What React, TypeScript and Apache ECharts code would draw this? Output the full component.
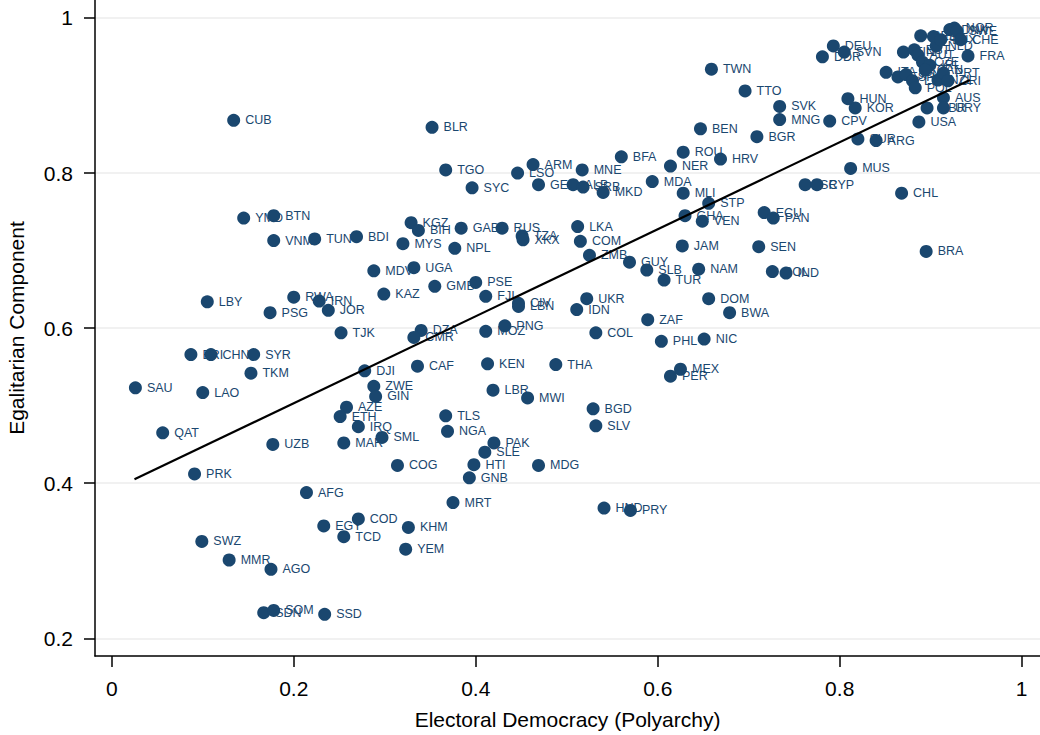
import React, { useEffect, useRef } from "react";
import * as echarts from "echarts";

// country codes, electoral democracy (x) and egalitarian component (y)
const codes = [
  "CUB", "BLR", "YMD", "BTN", "VNM", "TUN", "BDI", "KGZ", "BIH", "MYS",
  "MDV", "UGA", "KAZ", "LBY", "RWA", "IRN", "JOR", "PSG", "TJK", "DZA",
  "CMR", "ERI", "CHN", "SYR", "TKM", "SAU", "LAO", "QAT", "UZB", "PRK",
  "DJI", "CAF", "ZWE", "GIN", "AZE", "ETH", "IRQ", "MAR", "SML", "COG",
  "AFG", "EGY", "COD", "TCD", "KHM", "YEM", "SWZ", "MMR", "AGO", "SDN",
  "SOM", "SSD", "TGO", "SYC", "ARM", "LSO", "GEO", "ALB", "SRB", "MKD",
  "MNE", "BFA", "GAB", "RUS", "TZA", "XKX", "NPL", "LKA", "COM", "ZMB",
  "GUY", "SLB", "GMB", "PSE", "FJI", "CIV", "LBN", "UKR", "IDN", "PNG",
  "MOZ", "COL", "KEN", "THA", "LBR", "MWI", "BGD", "SLV", "TLS", "NGA",
  "PAK", "ZAF", "PHL", "SLE", "HTI", "GNB", "MDG", "MRT", "HND", "PRY",
  "SVK", "MNG", "CPV", "KOR", "HUN", "BEN", "BGR", "ROU", "HRV", "NER",
  "MDA", "MLI", "STP", "GHA", "VEN", "JAM", "SEN", "ECU", "PAN", "NAM",
  "TUR", "BOL", "IND", "ISR", "CYP", "MUS", "SUR", "ARG", "CHL", "BRA",
  "USA", "DOM", "BWA", "NIC", "MEX", "PER", "TWN", "TTO", "DEU", "SVN",
  "DDR", "DNK", "NOR", "SWE", "CHE", "FRA", "NLD", "ISL", "BEL", "LUX",
  "FIN", "EST", "AUT", "CZE", "IRL", "CAN", "ITA", "ESP", "JPN", "LTU",
  "NZL", "PRT", "CRI", "POL", "AUS", "GBR", "URY",
];

const polyarchy = [
  0.134, 0.352, 0.145, 0.178, 0.178, 0.223, 0.269, 0.329, 0.337, 0.320,
  0.288, 0.332, 0.299, 0.105, 0.200, 0.228, 0.238, 0.174, 0.252, 0.340,
  0.332, 0.087, 0.109, 0.156, 0.153, 0.026, 0.100, 0.056, 0.177, 0.091,
  0.278, 0.336, 0.288, 0.290, 0.258, 0.251, 0.271, 0.255, 0.297, 0.314,
  0.214, 0.233, 0.271, 0.255, 0.326, 0.323, 0.099, 0.129, 0.175, 0.167,
  0.178, 0.234, 0.367, 0.396, 0.463, 0.446, 0.469, 0.507, 0.518, 0.540,
  0.517, 0.560, 0.384, 0.429, 0.451, 0.452, 0.377, 0.512, 0.515, 0.525,
  0.569, 0.588, 0.355, 0.400, 0.411, 0.447, 0.447, 0.522, 0.511, 0.432,
  0.411, 0.532, 0.413, 0.488, 0.419, 0.457, 0.529, 0.532, 0.367, 0.369,
  0.420, 0.589, 0.604, 0.410, 0.398, 0.393, 0.469, 0.375, 0.541, 0.570,
  0.734, 0.734, 0.789, 0.817, 0.809, 0.647, 0.709, 0.628, 0.669, 0.614,
  0.594, 0.628, 0.656, 0.630, 0.649, 0.627, 0.711, 0.717, 0.727, 0.645,
  0.607, 0.726, 0.741, 0.762, 0.775, 0.812, 0.820, 0.840, 0.868, 0.895,
  0.887, 0.656, 0.679, 0.651, 0.625, 0.614, 0.659, 0.696, 0.793, 0.805,
  0.781, 0.921, 0.926, 0.929, 0.933, 0.941, 0.906, 0.903, 0.889, 0.911,
  0.870, 0.882, 0.886, 0.891, 0.899, 0.894, 0.851, 0.864, 0.873, 0.880,
  0.908, 0.914, 0.919, 0.883, 0.914, 0.896, 0.914,
];

const egalitarian = [
  0.868, 0.859, 0.742, 0.745, 0.713, 0.715, 0.718, 0.736, 0.726, 0.709,
  0.674, 0.678, 0.644, 0.634, 0.640, 0.635, 0.623, 0.620, 0.594, 0.597,
  0.588, 0.566, 0.566, 0.566, 0.542, 0.523, 0.517, 0.465, 0.450, 0.412,
  0.545, 0.551, 0.525, 0.512, 0.498, 0.486, 0.473, 0.452, 0.459, 0.423,
  0.388, 0.345, 0.354, 0.331, 0.343, 0.315, 0.325, 0.301, 0.289, 0.233,
  0.236, 0.231, 0.804, 0.781, 0.811, 0.800, 0.785, 0.785, 0.782, 0.775,
  0.804, 0.821, 0.729, 0.729, 0.719, 0.714, 0.703, 0.731, 0.712, 0.694,
  0.685, 0.675, 0.654, 0.659, 0.641, 0.632, 0.628, 0.638, 0.624, 0.603,
  0.596, 0.594, 0.554, 0.553, 0.520, 0.510, 0.496, 0.474, 0.487, 0.467,
  0.452, 0.611, 0.583, 0.440, 0.424, 0.407, 0.423, 0.375, 0.368, 0.365,
  0.886, 0.869, 0.867, 0.884, 0.896, 0.857, 0.847, 0.827, 0.818, 0.809,
  0.789, 0.774, 0.761, 0.745, 0.738, 0.706, 0.705, 0.749, 0.742, 0.676,
  0.662, 0.673, 0.671, 0.785, 0.785, 0.806, 0.844, 0.842, 0.774, 0.699,
  0.866, 0.638, 0.620, 0.586, 0.547, 0.538, 0.934, 0.906, 0.964, 0.956,
  0.950, 0.985, 0.987, 0.983, 0.972, 0.951, 0.964, 0.976, 0.977, 0.972,
  0.956, 0.959, 0.952, 0.943, 0.939, 0.933, 0.930, 0.924, 0.927, 0.919,
  0.920, 0.929, 0.919, 0.910, 0.897, 0.884, 0.884,
];

const xTicks = [0, 0.2, 0.4, 0.6, 0.8, 1];
const yTicks = [0.2, 0.4, 0.6, 0.8, 1];

// fitted line end points
const fitX = [0.025, 0.943];
const fitY = [0.405, 0.92];

const navy = "#1a476f";
const font = "'Liberation Sans', Arial, Helvetica, sans-serif";

const App = () => {
  const chartRef = useRef(null);

  useEffect(() => {
    const chart = echarts.init(chartRef.current, null, { renderer: "svg" });

    const points = codes.map((c, i) => ({ name: c, value: [polyarchy[i], egalitarian[i]] }));

    const option = {
      animation: false,
      backgroundColor: "#ffffff",
      textStyle: { fontFamily: font },
      grid: {
        left: 95,
        top: 0,
        width: 945,
        height: 656,
        containLabel: false,
        outerBoundsMode: "none",
      },
      xAxis: {
        type: "value",
        min: -0.0184,
        max: 1.0201,
        name: "Electoral Democracy (Polyarchy)",
        nameLocation: "middle",
        nameGap: 53,
        nameTextStyle: { fontSize: 21, color: "#000", fontFamily: font },
        axisLine: { onZero: false, lineStyle: { color: "#000", width: 1.5 } },
        axisTick: { length: 11, lineStyle: { color: "#000", width: 1.5 }, customValues: xTicks },
        axisLabel: { fontSize: 21, color: "#000", margin: 22, customValues: xTicks },
        splitLine: { show: false },
      },
      yAxis: {
        type: "value",
        min: 0.1772,
        max: 1.0232,
        name: "Egalitarian Component",
        nameLocation: "middle",
        nameGap: 68,
        nameTextStyle: { fontSize: 21, color: "#000", fontFamily: font },
        axisLine: { show: true, onZero: false, lineStyle: { color: "#000", width: 1.5 } },
        axisTick: { show: true, length: 11, lineStyle: { color: "#000", width: 1.5 }, customValues: yTicks },
        axisLabel: { fontSize: 21, color: "#000", margin: 22, customValues: yTicks },
        splitLine: { show: true, lineStyle: { color: "#ececec", width: 1.5 } },
      },
      series: [
        {
          type: "scatter",
          data: points,
          symbolSize: 13,
          itemStyle: { color: navy, opacity: 1 },
          label: {
            show: true,
            position: "right",
            distance: 5,
            formatter: "{b}",
            fontSize: 12.5,
            color: navy,
            fontFamily: font,
          },
        },
        {
          type: "line",
          data: fitX.map((x, i) => [x, fitY[i]]),
          symbol: "none",
          lineStyle: { color: "#000", width: 2.2 },
          z: 3,
        },
      ],
    };

    chart.setOption(option);

    return () => {
      chart.dispose();
    };
  }, []);

  return (
    <div
      ref={chartRef}
      style={{ position: "absolute", left: 0, top: 0, width: "1040px", height: "735px" }}
    />
  );
};

export default App;
